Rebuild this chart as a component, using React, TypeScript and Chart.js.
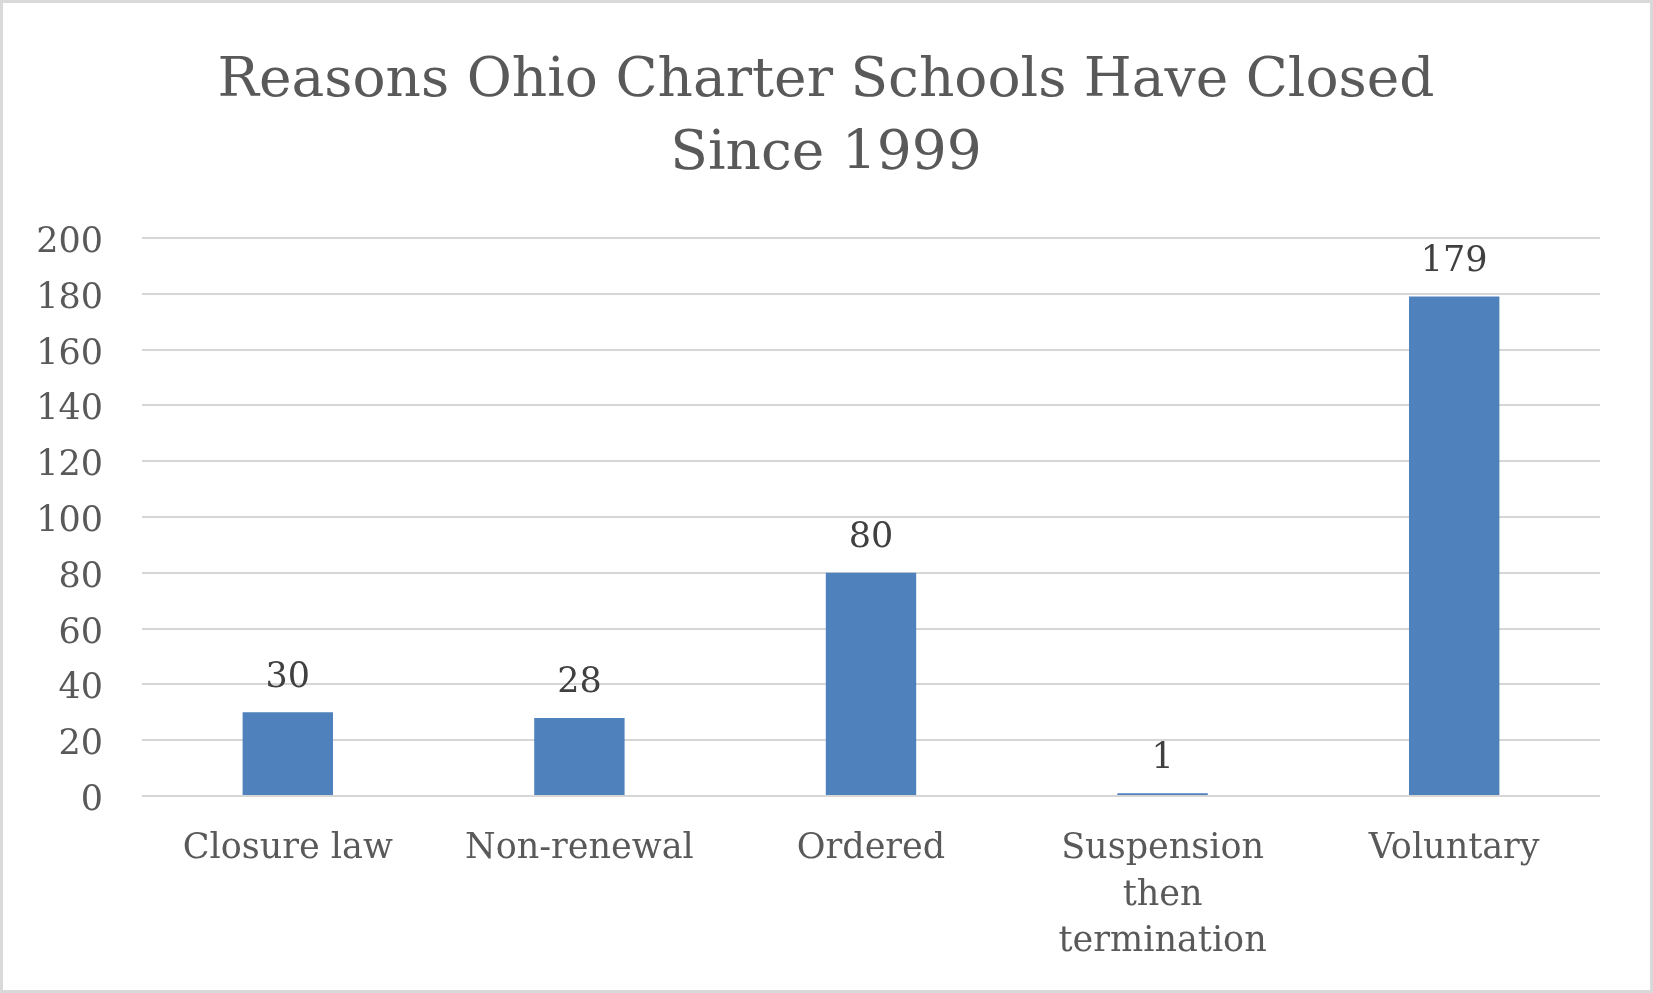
import React, { useEffect, useRef } from "react";
import { Chart, registerables } from "chart.js";

Chart.register(...registerables);

const categories: (string | string[])[] = [
  "Closure law",
  "Non-renewal",
  "Ordered",
  ["Suspension", "then", "termination"],
  "Voluntary",
];
const values: number[] = [30, 28, 80, 1, 179];
const titleLines: string[] = ["Reasons Ohio Charter Schools Have Closed", "Since 1999"];
const yMax = 200;
const yStep = 20;

const FONT = "'DejaVu Serif', 'Liberation Serif', serif";
const TEXT = "#595959";

const W = 1653;
const H = 993;

export default function App() {
  const ref = useRef<HTMLCanvasElement | null>(null);
  useEffect(() => {
    document.body.style.margin = "0";
    const canvas = ref.current!;
    const framePlugin = {
      id: "frame",
      beforeDraw(chart: any) {
        const ctx = chart.ctx;
        ctx.save();
        ctx.fillStyle = "#ffffff";
        ctx.fillRect(0, 0, chart.width, chart.height);
        ctx.strokeStyle = "#d9d9d9";
        ctx.lineWidth = 3;
        ctx.strokeRect(1.5, 1.5, chart.width - 3, chart.height - 3);
        ctx.restore();
      },
      afterDraw(chart: any) {
        const ctx = chart.ctx;
        ctx.save();
        ctx.fillStyle = TEXT;
        ctx.textAlign = "center";
        ctx.textBaseline = "alphabetic";
        ctx.font = `55px ${FONT}`;
        ctx.fillText(titleLines[0], 826, 96);
        ctx.fillText(titleLines[1], 826, 169);
        // data labels
        const meta = chart.getDatasetMeta(0);
        ctx.fillStyle = "#404040";
        ctx.font = `35px ${FONT}`;
        ctx.textBaseline = "bottom";
        meta.data.forEach((bar: any, i: number) => {
          ctx.fillText(String(values[i]), bar.x, bar.y - 17);
        });
        ctx.restore();
      },
    };
    const chart = new Chart(canvas, {
      type: "bar",
      data: {
        labels: categories,
        datasets: [
          {
            data: values,
            backgroundColor: "#4f81bd",
            borderWidth: 0,
            barPercentage: 0.31,
            categoryPercentage: 1,
          },
        ],
      },
      options: {
        animation: false,
        responsive: false,
        devicePixelRatio: 1,
        layout: { padding: { top: 238, right: 53, left: 0, bottom: 0 } },
        plugins: {
          legend: { display: false },
          title: { display: false },
          tooltip: { enabled: false },
        },
        scales: {
          x: {
            grid: { display: false, drawTicks: false },
            border: { display: false },
            ticks: {
              color: TEXT,
              font: { family: FONT, size: 35, lineHeight: 1.33 },
              padding: 30,
              maxRotation: 0,
              autoSkip: false,
            },
            afterFit(scale: any) {
              scale.height = 197;
            },
          },
          y: {
            min: 0,
            max: yMax,
            ticks: {
              stepSize: yStep,
              color: TEXT,
              font: { family: FONT, size: 35 },
              padding: 39,
              labelOffset: 5,
            },
            grid: { color: "#d6d6d6", lineWidth: 2, drawTicks: false },
            border: { display: false },
            afterFit(scale: any) {
              scale.width = 142;
            },
          },
        },
      },
      plugins: [framePlugin],
    });
    return () => chart.destroy();
  }, []);
  return <canvas ref={ref} width={W} height={H} style={{ display: "block", width: W, height: H }} />;
}
